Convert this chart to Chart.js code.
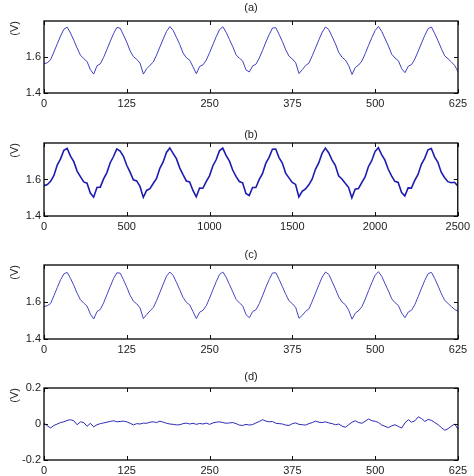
<!DOCTYPE html>
<html>
<head>
<meta charset="utf-8">
<script src="https://cdn.jsdelivr.net/npm/chart.js@4"></script>
<style>
  html, body { margin: 0; padding: 0; background: #fff; }
  #wrap { position: relative; width: 474px; height: 476px; background: #fff; overflow: hidden; }
  #wrap canvas { position: absolute; left: 0; }
</style>
</head>
<body>
<div id="wrap">
  <canvas id="cA" width="474" height="115" style="top:0px"></canvas>
  <canvas id="cB" width="474" height="116" style="top:122px"></canvas>
  <canvas id="cC" width="474" height="117" style="top:244px"></canvas>
  <canvas id="cD" width="474" height="115" style="top:367px"></canvas>
</div>
<script>
// ===== Data =====
const STEP_A = 5;      // sample spacing for (a), (c), (d)
const STEP_B = 20;     // sample spacing for (b)

const xTicksShort = [0, 125, 250, 375, 500, 625];
const xTicksLong = [0, 500, 1000, 1500, 2000, 2500];
const yTicksVolt = [1.4, 1.6];
const yTicksErr = [-0.2, 0, 0.2];

// (a) measured voltage
const sigA = [
  1.562,1.568,1.585,1.628,1.673,1.717,1.754,1.766,1.733,1.693,
  1.650,1.610,1.591,1.575,1.530,1.505,1.551,1.562,1.598,1.642,
  1.687,1.730,1.764,1.760,1.722,1.682,1.634,1.602,1.587,1.566,
  1.505,1.535,1.554,1.572,1.611,1.656,1.700,1.742,1.769,1.748,
  1.709,1.669,1.622,1.596,1.582,1.545,1.507,1.548,1.556,1.583,
  1.624,1.669,1.713,1.752,1.768,1.737,1.697,1.657,1.612,1.593,
  1.577,1.528,1.517,1.550,1.560,1.594,1.637,1.683,1.725,1.761,
  1.763,1.725,1.685,1.640,1.604,1.589,1.568,1.508,1.530,1.553,
  1.566,1.607,1.651,1.696,1.738,1.767,1.752,1.713,1.673,1.625,
  1.598,1.583,1.552,1.503,1.542,1.555,1.578,1.619,1.665,1.708,
  1.748,1.770,1.741,1.701,1.661,1.615,1.594,1.579,1.535,1.513,
  1.549,1.558,1.590,1.633,1.678,1.721,1.758,1.766,1.729,1.689,
  1.645,1.606,1.590,1.572,1.553,1.518
];

// (b) long record
const sigB = [
  1.566,1.572,1.590,1.622,1.679,1.713,1.760,1.770,1.728,1.698,
  1.646,1.616,1.587,1.580,1.526,1.503,1.556,1.558,1.603,1.638,
  1.692,1.726,1.768,1.756,1.727,1.678,1.640,1.598,1.592,1.562,
  1.502,1.540,1.550,1.578,1.606,1.661,1.696,1.748,1.773,1.743,
  1.714,1.664,1.627,1.592,1.587,1.540,1.505,1.553,1.552,1.588,
  1.620,1.674,1.708,1.757,1.772,1.732,1.702,1.652,1.617,1.589,
  1.582,1.523,1.512,1.556,1.556,1.599,1.632,1.688,1.721,1.766,
  1.767,1.720,1.690,1.635,1.609,1.584,1.573,1.504,1.535,1.548,
  1.571,1.602,1.656,1.691,1.743,1.772,1.747,1.708,1.678,1.620,
  1.603,1.579,1.557,1.500,1.547,1.551,1.583,1.614,1.670,1.703,
  1.753,1.774,1.736,1.706,1.656,1.620,1.590,1.584,1.530,1.509,
  1.554,1.553,1.595,1.628,1.683,1.716,1.763,1.770,1.724,1.694,
  1.640,1.611,1.588,1.582,1.585,1.565
];

// (c) reconstructed voltage
const sigC = [
  1.575,1.580,1.592,1.634,1.678,1.720,1.752,1.760,1.728,1.690,
  1.648,1.612,1.594,1.578,1.535,1.508,1.548,1.560,1.595,1.640,
  1.684,1.727,1.758,1.756,1.720,1.680,1.636,1.604,1.590,1.568,
  1.510,1.532,1.552,1.570,1.608,1.652,1.697,1.740,1.762,1.744,
  1.706,1.666,1.624,1.598,1.584,1.548,1.510,1.545,1.555,1.580,
  1.621,1.666,1.710,1.749,1.762,1.734,1.694,1.655,1.614,1.595,
  1.579,1.532,1.515,1.548,1.558,1.591,1.634,1.680,1.722,1.757,
  1.758,1.722,1.682,1.641,1.606,1.591,1.570,1.512,1.528,1.550,
  1.563,1.604,1.648,1.693,1.735,1.762,1.749,1.710,1.670,1.627,
  1.600,1.585,1.556,1.507,1.540,1.553,1.575,1.616,1.661,1.705,
  1.745,1.764,1.738,1.698,1.659,1.617,1.596,1.581,1.540,1.515,
  1.546,1.556,1.587,1.630,1.675,1.718,1.754,1.760,1.726,1.686,
  1.644,1.608,1.592,1.575,1.560,1.550
];

// (d) difference
const errD = [
  0.005,-0.010,-0.022,-0.008,0.000,0.008,0.012,0.020,0.024,0.018,
  -0.004,0.012,0.008,-0.013,0.004,-0.016,-0.004,0.002,0.006,0.010,
  0.014,0.018,0.012,0.014,0.016,0.012,0.004,-0.005,0.002,0.000,
  0.005,0.004,0.010,0.012,0.008,0.016,0.010,0.004,0.000,-0.002,
  -0.005,-0.004,0.002,0.005,0.000,0.004,-0.002,0.003,0.000,0.005,
  -0.002,0.006,0.010,0.012,0.008,0.004,0.006,0.008,0.002,-0.006,
  -0.008,-0.002,-0.006,-0.003,0.006,0.014,0.024,0.016,0.012,0.014,
  0.004,0.002,0.000,-0.006,-0.008,0.002,0.006,-0.002,-0.004,-0.006,
  0.002,0.008,0.016,0.010,0.008,0.012,0.006,0.002,-0.004,0.000,
  -0.012,-0.018,-0.004,0.010,0.018,0.008,0.004,0.016,0.028,0.018,
  0.015,0.008,-0.006,-0.013,-0.020,-0.010,-0.004,-0.014,-0.022,0.006,
  0.024,0.010,0.018,0.040,0.030,0.014,0.026,0.020,0.008,-0.004,
  -0.020,-0.035,-0.026,-0.012,0.000,-0.028
];

// ===== Style =====
const FONT = "'Liberation Sans', Arial, Helvetica, sans-serif";
const TXT = '#222';

// box + inward tick marks, matlab style
const boxTicks = {
  id: 'boxTicks',
  afterDatasetsDraw(chart) {
    const { ctx, chartArea: a, scales: { x, y } } = chart;
    const len = 4;
    ctx.save();
    ctx.strokeStyle = '#111';
    ctx.lineWidth = 1;
    ctx.beginPath();
    x.ticks.forEach((t) => {
      const px = Math.round(x.getPixelForValue(t.value)) + 0.5;
      ctx.moveTo(px, a.top); ctx.lineTo(px, a.top + len);
      ctx.moveTo(px, a.bottom); ctx.lineTo(px, a.bottom - len);
    });
    y.ticks.forEach((t) => {
      const py = Math.round(y.getPixelForValue(t.value)) + 0.5;
      ctx.moveTo(a.left, py); ctx.lineTo(a.left + len, py);
      ctx.moveTo(a.right, py); ctx.lineTo(a.right - len, py);
    });
    ctx.stroke();
    ctx.lineWidth = 1.3;
    ctx.strokeStyle = '#000';
    ctx.strokeRect(a.left, a.top, a.right - a.left, a.bottom - a.top);
    ctx.restore();
  },
};

function toPoints(vals, step) {
  return vals.map((v, i) => ({ x: i * step, y: v }));
}

function makePanel(id, opts) {
  const ctx = document.getElementById(id).getContext('2d');
  return new Chart(ctx, {
    type: 'line',
    data: {
      datasets: [{
        data: toPoints(opts.values, opts.step),
        borderColor: opts.color,
        borderWidth: opts.width,
        pointRadius: 0,
        tension: 0,
        fill: false,
      }],
    },
    options: {
      responsive: false,
      animation: false,
      devicePixelRatio: 1,
      layout: { padding: { left: 0, right: 16, top: 0, bottom: 0 } },
      plugins: {
        legend: { display: false },
        tooltip: { enabled: false },
        title: {
          display: true,
          text: opts.title,
          fullSize: false,
          color: TXT,
          font: { family: FONT, size: 11, weight: 'normal' },
          padding: { top: opts.titlePad[0], bottom: opts.titlePad[1] },
        },
      },
      scales: {
        x: {
          type: 'linear',
          min: opts.xTicks[0],
          max: opts.xTicks[opts.xTicks.length - 1],
          afterBuildTicks: (s) => { s.ticks = opts.xTicks.map((v) => ({ value: v })); },
          afterFit: (s) => { s.height = 22; },
          grid: { display: false, drawTicks: false },
          border: { display: false },
          ticks: {
            color: TXT, padding: 4, maxRotation: 0, autoSkip: false,
            font: { family: FONT, size: 11 },
            callback: (v) => String(v),
          },
        },
        y: {
          min: opts.yTicks[0],
          max: opts.yMax,
          afterBuildTicks: (s) => { s.ticks = opts.yTicks.map((v) => ({ value: v })); },
          afterFit: (s) => { s.width = 44; },
          grid: { display: false, drawTicks: false },
          border: { display: false },
          ticks: {
            color: TXT, padding: 3, autoSkip: false,
            font: { family: FONT, size: 11 },
            callback: (v) => String(v),
          },
          title: {
            display: true, text: '(V)', align: 'end', color: TXT,
            font: { family: FONT, size: 11 },
            padding: { top: 8, bottom: 0 },
          },
        },
      },
    },
    plugins: [boxTicks],
  });
}

makePanel('cA', { values: sigA, step: STEP_A, title: '(a)', titlePad: [1.4, 6.4],
  xTicks: xTicksShort, yTicks: yTicksVolt, yMax: 1.8, color: '#4040c0', width: 1 });
makePanel('cB', { values: sigB, step: STEP_B, title: '(b)', titlePad: [6.4, 1.4],
  xTicks: xTicksLong, yTicks: yTicksVolt, yMax: 1.8, color: '#1c1cb0', width: 1.6 });
makePanel('cC', { values: sigC, step: STEP_A, title: '(c)', titlePad: [4.4, 3.4],
  xTicks: xTicksShort, yTicks: yTicksVolt, yMax: 1.8, color: '#4545c2', width: 1 });
makePanel('cD', { values: errD, step: STEP_A, title: '(d)', titlePad: [3.4, 4.4],
  xTicks: xTicksShort, yTicks: yTicksErr, yMax: 0.2, color: '#2a2ab8', width: 1 });
</script>
</body>
</html>
